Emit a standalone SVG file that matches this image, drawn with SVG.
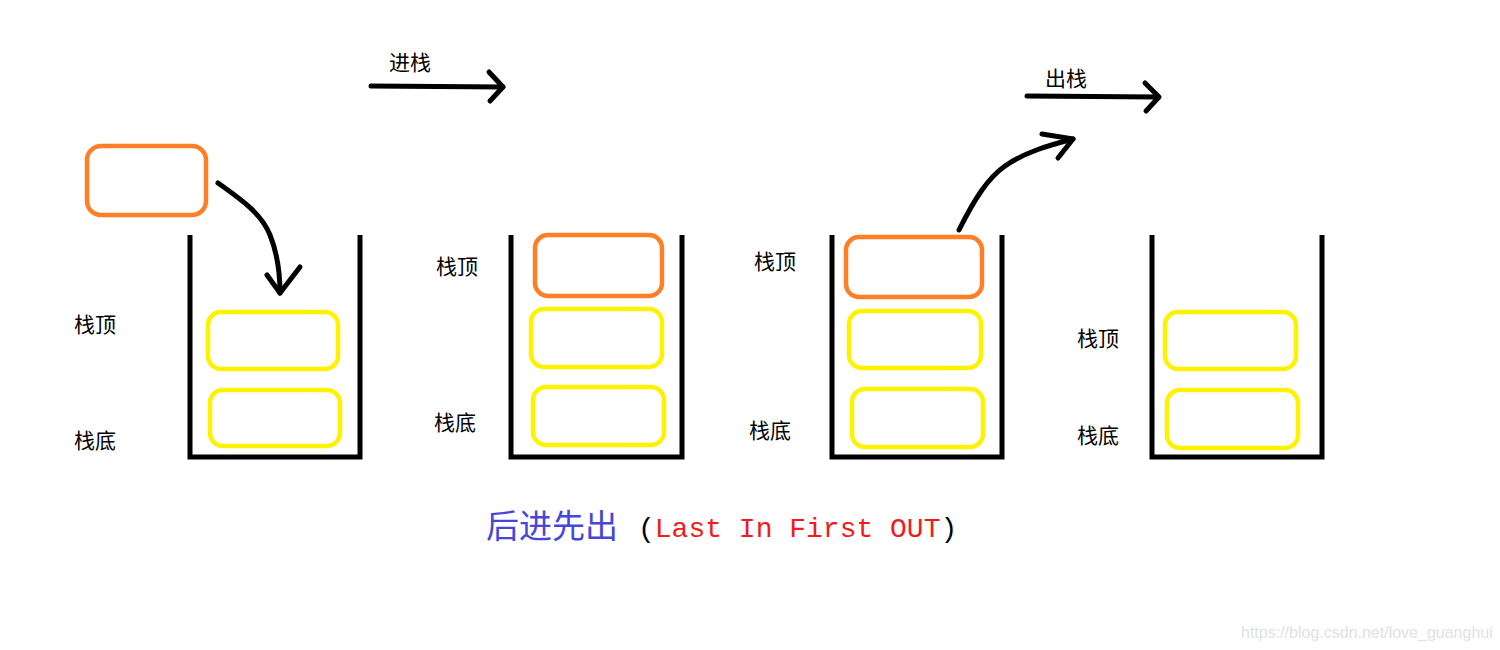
<svg xmlns="http://www.w3.org/2000/svg" width="1500" height="650" viewBox="0 0 1500 650">
<style>
.stack{fill:none;stroke:#000;stroke-width:5;stroke-linecap:butt;stroke-linejoin:miter}
.orange{fill:none;stroke:#FF7F27;stroke-width:4.5}
.yellow{fill:none;stroke:#FFF200;stroke-width:4.5}
.arrow{fill:none;stroke:#000;stroke-width:5;stroke-linecap:round;stroke-linejoin:round}
.lbl{font-family:"Noto Sans CJK SC","Noto Sans",sans-serif;font-size:21px;fill:#000;dominant-baseline:central}
.wm{font-family:"Liberation Sans",Arial,sans-serif;font-size:16px;fill:#E2E2E2}
</style>
<rect width="1500" height="650" fill="#fff"/>

<g id="stack1">
<path class="stack" d="M190,235 V457 H360 V235"/>
<rect class="yellow" x="208" y="312" width="130" height="57" rx="13"/>
<rect class="yellow" x="210" y="390" width="130" height="56" rx="13"/>
<text class="lbl" x="74" y="323">栈顶</text>
<text class="lbl" x="74" y="439">栈底</text>
</g>
<g id="newItem">
<rect class="orange" x="87" y="146" width="119" height="69" rx="14"/>
</g>

<g id="stack2">
<path class="stack" d="M511,235 V457 H682 V235"/>
<rect class="orange" x="535" y="235" width="127" height="61" rx="13"/>
<rect class="yellow" x="531" y="309" width="131" height="58" rx="13"/>
<rect class="yellow" x="533" y="387" width="131" height="58" rx="13"/>
<text class="lbl" x="436" y="265">栈顶</text>
<text class="lbl" x="434" y="421">栈底</text>
</g>

<g id="stack3">
<path class="stack" d="M832,235 V457 H1002 V235"/>
<rect class="orange" x="846" y="237" width="136" height="60" rx="13"/>
<rect class="yellow" x="849" y="311" width="132" height="57" rx="13"/>
<rect class="yellow" x="852" y="389" width="131" height="58" rx="13"/>
<text class="lbl" x="754" y="260">栈顶</text>
<text class="lbl" x="749" y="429">栈底</text>
</g>

<g id="stack4">
<path class="stack" d="M1152,235 V457 H1322 V235"/>
<rect class="yellow" x="1165" y="312" width="131" height="57" rx="13"/>
<rect class="yellow" x="1167" y="390" width="131" height="58" rx="13"/>
<text class="lbl" x="1077" y="337">栈顶</text>
<text class="lbl" x="1077" y="434">栈底</text>
</g>

<g id="connectors">
<path class="arrow" d="M218,183 C245,202 262,215 270,235 C278,255 280,275 280,293"/>
<path class="arrow" d="M267,275 L280,293 L300,267"/>
<path class="arrow" d="M371,86 L503,87"/>
<path class="arrow" d="M489,72 L503,87 L490,101"/>
<path class="arrow" d="M959,230 C975,198 988,178 1005,166 C1025,152 1050,145 1073,139"/>
<path class="arrow" d="M1042,134 L1073,139 L1058,158"/>
<path class="arrow" d="M1027,96 L1158,97"/>
<path class="arrow" d="M1145,83 L1159,97 L1146,111"/>
</g>

<g id="labels">
<text class="lbl" x="389" y="61">进栈</text>
<text class="lbl" x="1045" y="77">出栈</text>
</g>

<g id="caption">
<text x="486" y="538" font-family="'Noto Sans CJK SC',sans-serif" font-size="33" fill="#4646D8">后进先出</text>
<text x="638" y="537" font-family="'Liberation Mono',monospace" font-size="28" fill="#000">(<tspan fill="#EE1C1C">Last In First OUT</tspan>)</text>
</g>

<text class="wm" x="1241" y="638">https://blog.csdn.net/love_guanghui</text>
</svg>
